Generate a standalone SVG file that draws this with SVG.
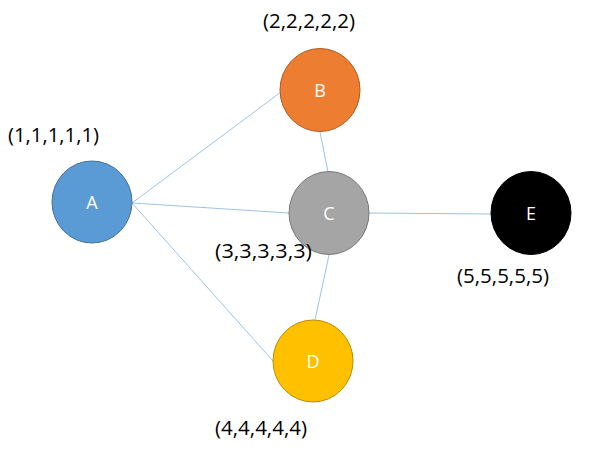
<svg xmlns="http://www.w3.org/2000/svg" width="595" height="458" viewBox="0 0 595 458">
<style>
.edge{stroke:#9DC3E6;stroke-width:1;fill:none}
.node{stroke-width:1}
.nl{font-family:"Open Sans","Liberation Sans",sans-serif;font-size:18px;fill:#ffffff;text-anchor:middle}
.lbl{font-family:"Open Sans","Liberation Sans",sans-serif;font-size:20px;fill:#000000}
</style>
<rect width="595" height="458" fill="#ffffff"/>
<g id="connectors">
<line class="edge" x1="132" y1="203" x2="281" y2="92"/>
<line class="edge" x1="132" y1="203" x2="289" y2="213"/>
<line class="edge" x1="132" y1="203" x2="273" y2="361"/>
<line class="edge" x1="320" y1="132" x2="328" y2="172"/>
<line class="edge" x1="369" y1="213" x2="491" y2="214"/>
<line class="edge" x1="329" y1="255" x2="315" y2="320"/>
</g>
<g id="A">
<ellipse class="node" cx="92" cy="202" rx="40" ry="41" fill="#5B9BD5" stroke="#41719C"/>
<text class="nl" x="92" y="209">A</text>
</g>
<g id="B">
<ellipse class="node" cx="320" cy="90" rx="40" ry="41.5" fill="#ED7D31" stroke="#AE5A21"/>
<text class="nl" x="320" y="97">B</text>
</g>
<g id="C">
<ellipse class="node" cx="329" cy="213" rx="40" ry="41.5" fill="#A5A5A5" stroke="#787878"/>
<text class="nl" x="329" y="220">C</text>
</g>
<g id="D">
<ellipse class="node" cx="313" cy="361" rx="40" ry="41" fill="#FFC000" stroke="#BC8C00"/>
<text class="nl" x="313" y="368">D</text>
</g>
<g id="E">
<ellipse class="node" cx="531" cy="213" rx="40" ry="41.5" fill="#000000" stroke="#000000"/>
<text class="nl" x="531" y="220">E</text>
</g>
<g id="labels">
<text class="lbl" x="8" y="142" textLength="91" lengthAdjust="spacingAndGlyphs">(1,1,1,1,1)</text>
<text class="lbl" x="263" y="28" textLength="92" lengthAdjust="spacingAndGlyphs">(2,2,2,2,2)</text>
<text class="lbl" x="215" y="258" textLength="97" lengthAdjust="spacingAndGlyphs">(3,3,3,3,3)</text>
<text class="lbl" x="215" y="435" textLength="92" lengthAdjust="spacingAndGlyphs">(4,4,4,4,4)</text>
<text class="lbl" x="457" y="283" textLength="92" lengthAdjust="spacingAndGlyphs">(5,5,5,5,5)</text>
</g>
</svg>
